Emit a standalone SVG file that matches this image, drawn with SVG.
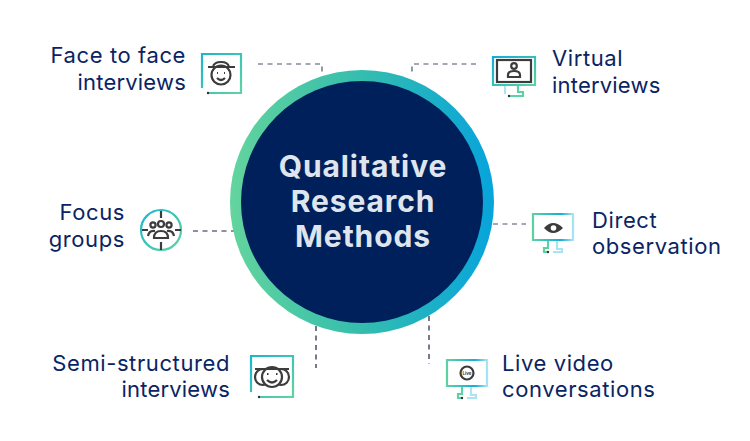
<svg xmlns="http://www.w3.org/2000/svg" width="750" height="441" viewBox="0 0 750 441">
<style>
.l{font-family:Inter,"Liberation Sans",sans-serif;font-size:22px;letter-spacing:.6px;fill:#0a2463}
.n{letter-spacing:.2px}
.e{text-anchor:end}
.t{font-family:Inter,"Liberation Sans",sans-serif;font-size:30px;font-weight:700;letter-spacing:.9px;fill:#dfe5ee;text-anchor:middle}
.c{fill:none;stroke-width:1.2;stroke-dasharray:5 4.500}
.d{stroke:#4d5368}.k{stroke:#1a2340}
.i{fill:none;stroke:#3c3c3c;stroke-width:2.200}
.b{fill:none;stroke-width:2.200}
</style>
<defs>
<linearGradient id="ring" x1="0" y1="0" x2="1" y2="0"><stop offset="0" stop-color="#63d49d"/><stop offset=".5" stop-color="#34bdae"/><stop offset="1" stop-color="#07a4dc"/></linearGradient>
<linearGradient id="g1" x1="0" y1="0" x2="1" y2="1"><stop offset="0" stop-color="#12aedb"/><stop offset=".6" stop-color="#3cc3b4"/><stop offset="1" stop-color="#5cd2a2"/></linearGradient>
<linearGradient id="g2" x1="0" y1="0" x2="1" y2="0"><stop offset="0" stop-color="#5cd2a2"/><stop offset=".7" stop-color="#12aedb"/><stop offset="1" stop-color="#a8e4f5"/></linearGradient>
<linearGradient id="g3" x1="0" y1="0" x2="1" y2="1"><stop offset="0" stop-color="#1cb5cf"/><stop offset="1" stop-color="#60d3a0"/></linearGradient>
</defs>
<g id="connectors">
<path class="c d" d="M258 64H322V72"/>
<path class="c d" d="M476 64H412V76"/>
<path class="c k" d="M193 231H236"/>
<path class="c d" d="M493 224H526"/>
<path class="c k" d="M316 326V368"/>
<path class="c k" d="M429 316V364"/>
</g>
<g id="center">
<circle cx="362" cy="202" r="132" fill="url(#ring)"/>
<circle cx="362" cy="202" r="121" fill="#00205b"/>
<text class="t" x="363" y="177">Qualitative</text>
<text class="t" x="363" y="212">Research</text>
<text class="t" x="363" y="247">Methods</text>
</g>
<g id="face-to-face">
<text class="l e" x="186" y="63">Face to face</text>
<text class="l e n" x="186" y="90">interviews</text>
<path class="b" stroke="url(#g3)" d="M208 93H241V54H202V88"/>
<circle cx="208" cy="93" r="1.200" fill="#333"/>
<circle class="i" cx="221" cy="75" r="9.500"/>
<path class="i" d="M208 67H235M213 67Q214 62 221 62T229 67"/>
<path class="i" stroke-width="1.600" d="M217 78Q221 82 225 78M217 73h1M224 73h1"/>
</g>
<g id="virtual">
<text class="l" x="552" y="66">Virtual</text>
<text class="l n" x="552" y="93">interviews</text>
<path class="b" stroke="url(#g1)" d="M493 57H535V85H493Z"/>
<path class="b" stroke="#a8e4f5" d="M505 86V94"/>
<path class="b" stroke="#5cd2a2" d="M518 86V92H523V96H509"/>
<rect class="i" x="497" y="60" width="34" height="22"/>
<circle class="i" cx="514" cy="66" r="2.800" stroke-width="1.800"/>
<path class="i" stroke-width="1.800" d="M508 77V75Q508 71 514 71T520 75V77Z"/>
<circle cx="509" cy="96" r="1.200" fill="#333"/>
</g>
<g id="focus">
<text class="l e" x="125" y="220">Focus</text>
<text class="l e" x="125" y="247">groups</text>
<circle class="b" stroke="url(#g3)" cx="161" cy="230" r="20"/>
<path class="i" stroke-width="1.800" d="M161 211V218M161 242V250M142 230H148M175 230H181"/>
<circle class="i" stroke-width="1.800" cx="153" cy="225" r="2.600"/>
<circle class="i" stroke-width="1.800" cx="161" cy="224" r="3"/>
<circle class="i" stroke-width="1.800" cx="169" cy="225" r="2.600"/>
<path class="i" stroke-width="1.800" d="M148 236Q149 230 155 231M174 236Q173 230 167 231M154 238Q154 231 161 231T168 238Z"/>
</g>
<g id="direct">
<text class="l" x="592" y="228">Direct</text>
<text class="l" x="592" y="254">observation</text>
<path class="b" stroke="url(#g2)" d="M533 214H573V240H533Z"/>
<path class="b" stroke="#5cd2a2" d="M548 241V248H544V252H548"/>
<path class="b" stroke="#a8e4f5" d="M557 241V249H562V252H553"/>
<path fill="#3c3c3c" d="M544 228Q553 218 563 228Q553 238 544 228Z"/>
<circle cx="553.500" cy="228" r="2.800" fill="#fff"/>
<circle cx="548" cy="252" r="1.200" fill="#333"/>
</g>
<g id="semi">
<text class="l e" x="230" y="371">Semi-structured</text>
<text class="l e n" x="230" y="397">interviews</text>
<path class="b" stroke="url(#g3)" d="M258 397H293V356H251V392"/>
<circle cx="259" cy="397" r="1.200" fill="#333"/>
<circle class="i" cx="263" cy="377" r="8"/>
<circle class="i" cx="281" cy="377" r="8"/>
<circle class="i" cx="272" cy="377" r="10" style="fill:#fff"/>
<path class="i" d="M255 369H289"/>
<path class="i" stroke-width="1.600" d="M267 380Q272 385 277 380M267 374h1.500M276 374h1.500"/>
</g>
<g id="live">
<text class="l" x="502" y="371">Live video</text>
<text class="l" x="502" y="397">conversations</text>
<path class="b" stroke="url(#g2)" d="M447 360H487V386H447Z"/>
<path class="b" stroke="#5cd2a2" d="M462 387V394H458V398H462"/>
<path class="b" stroke="#a8e4f5" d="M471 387V395H476V398H467"/>
<circle class="i" cx="467" cy="373" r="6.500"/>
<text x="467" y="374.700" font-family="Inter,sans-serif" font-size="4.500" font-weight="700" fill="#3c3c3c" text-anchor="middle">Live</text>
<circle cx="462" cy="398" r="1.200" fill="#333"/>
</g>
</svg>
